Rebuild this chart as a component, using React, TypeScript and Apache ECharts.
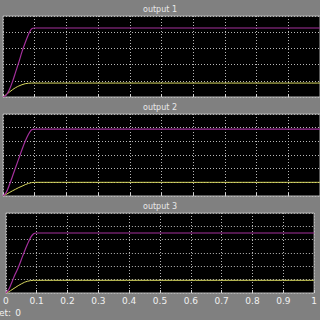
import React, { useEffect, useRef } from "react";
import * as echarts from "echarts";

const titles = ["output 1", "output 2", "output 3"];
const time = [0, 0.01, 0.02, 0.03, 0.04, 0.05, 0.06, 0.07, 0.08, 0.09, 0.1, 1.0];

const purple1 = [0, 0.12, 0.45, 0.95, 1.55, 2.15, 2.8, 3.35, 3.85, 4.2, 4.26, 4.26];
const yellow1 = [0, 0.15, 0.3, 0.45, 0.58, 0.68, 0.76, 0.82, 0.85, 0.86, 0.86, 0.86];

const purple2 = [0, 0.25, 0.8, 1.45, 2.1, 2.75, 3.4, 4.0, 4.5, 4.85, 4.9, 4.9];
const yellow2 = [0, 0.12, 0.25, 0.38, 0.5, 0.62, 0.72, 0.83, 0.92, 0.98, 1.0, 1.0];

const purple3 = [0, 0.3, 0.85, 1.4, 1.9, 2.5, 3.1, 3.65, 4.15, 4.45, 4.5, 4.5];
const yellow3 = [0, 0.1, 0.25, 0.4, 0.55, 0.68, 0.8, 0.88, 0.93, 0.95, 0.95, 0.95];

const yMax = [5, 6, 6];

const purpleSeries = [purple1, purple2, purple3];
const yellowSeries = [yellow1, yellow2, yellow3];

export default function App() {
  const ref = useRef<HTMLDivElement>(null);
  useEffect(() => {
    if (!ref.current) return;
    const chart = echarts.init(ref.current, null, { renderer: "svg" });
    const gridTops = [16, 114, 213];
    const gridHeights = [81, 82, 80];
    const grids = gridTops.map((t, i) => ({
      left: 3,
      right: 0,
      top: t,
      height: gridHeights[i],
      show: true,
      backgroundColor: "#000000",
      borderColor: "#b4b4b4",
      borderWidth: 1,
    }));
    const xAxes = gridTops.map((_, i) => ({
      type: "value" as const,
      gridIndex: i,
      min: 0,
      max: 1,
      interval: 0.1,
      axisLine: { show: false },
      axisTick: { show: true, inside: true, length: 3, lineStyle: { color: "#d0d0d0" } },
      axisLabel: {
        show: i === 2,
        color: "#f0f0f0",
        fontSize: 9,
        fontFamily: "DejaVu Sans",
        margin: 3,
        formatter: (v: number) => {
          const r = Math.round(v * 10) / 10;
          return r === 0 ? "0" : r === 1 ? "1" : r.toFixed(1);
        },
      },
      splitLine: { show: true, lineStyle: { color: "#b8b8b8", type: [1, 2] as any, width: 1 } },
    }));
    const yAxes = gridTops.map((_, i) => ({
      type: "value" as const,
      gridIndex: i,
      min: 0,
      max: yMax[i],
      interval: 1,
      axisLine: { show: false },
      axisTick: { show: false },
      axisLabel: { show: false },
      splitLine: { show: true, lineStyle: { color: "#b8b8b8", type: [1, 2] as any, width: 1 } },
    }));
    const series: any[] = [];
    for (let i = 0; i < 3; i++) {
      series.push({
        type: "line",
        xAxisIndex: i,
        yAxisIndex: i,
        data: time.map((t, k) => [t, yellowSeries[i][k]]),
        showSymbol: false,
        smooth: 0.3,
        lineStyle: { color: "#d8d860", width: 1 },
      });
      series.push({
        type: "line",
        xAxisIndex: i,
        yAxisIndex: i,
        data: time.map((t, k) => [t, purpleSeries[i][k]]),
        showSymbol: false,
        smooth: 0.3,
        lineStyle: { color: "#a4309c", width: 1.2 },
      });
    }
    const titleY = [9, 107, 206];
    const graphic: any[] = titles.map((t, i) => ({
      type: "text",
      x: 160,
      y: titleY[i],
      style: {
        text: t,
        fill: "#e8e8e8",
        fontSize: 8,
        fontFamily: "DejaVu Sans",
        textAlign: "center",
        textVerticalAlign: "middle",
      },
    }));
    graphic.push({
      type: "text",
      x: 11,
      y: 313,
      style: {
        text: "Time offset:",
        fill: "#f0f0f0",
        fontSize: 9,
        fontFamily: "DejaVu Sans",
        textAlign: "right",
        textVerticalAlign: "middle",
      },
    });
    graphic.push({
      type: "text",
      x: 18,
      y: 313,
      style: {
        text: "0",
        fill: "#f0f0f0",
        fontSize: 9,
        fontFamily: "DejaVu Sans",
        textAlign: "center",
        textVerticalAlign: "middle",
      },
    });
    chart.setOption({
      animation: false,
      backgroundColor: "#808080",
      grid: grids,
      xAxis: xAxes,
      yAxis: yAxes,
      series,
      graphic,
    });
    return () => chart.dispose();
  }, []);
  return (
    <div
      ref={ref}
      style={{ position: "fixed", left: 0, top: 0, width: 320, height: 320 }}
    />
  );
}
